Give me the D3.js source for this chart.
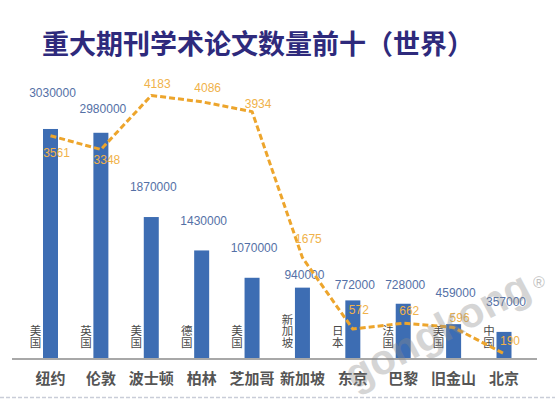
<!DOCTYPE html>
<html>
<head>
<meta charset="utf-8">
<script src="https://cdn.jsdelivr.net/npm/d3@7"></script>
<style>
  body { margin: 0; background: #fff; }
  svg { display: block; }
</style>
</head>
<body>
<div id="chart"></div>
<script>
var width = 555,
  height = 399;

// data
var cities = ["纽约", "伦敦", "波士顿", "柏林", "芝加哥", "新加坡", "东京", "巴黎", "旧金山", "北京"];
var countries = ["美国", "英国", "美国", "德国", "美国", "新加坡", "日本", "法国", "美国", "中国"];
var citations = [3030000, 2980000, 1870000, 1430000, 1070000, 940000, 772000, 728000, 459000, 357000];
var papers = [3561, 3348, 4183, 4086, 3934, 1675, 572, 662, 596, 190];

// label nudges (px) so the labels sit where the original had them
var barLabelLift = [36, 24, 30, 30, 30, 13, 16, 19, 31, 30];
var lineLabelDy = [17, 10, -12, -14, -8, -19, -19, -12, -10, -13];

var svg = d3.select("#chart")
  .append("svg")
  .attr("width", width)
  .attr("height", height);

var x = d3.scalePoint()
  .domain(cities)
  .range([50.5, 504]);

var y = d3.scaleLinear()
  .domain([0, 3500000])
  .range([359, 93.3]);

// secondary axis for the line
var y2 = d3.scaleLinear()
  .domain([0, 4500])
  .range([366, 75]);

var barW = 15;

// title
svg.append("text")
  .attr("x", 258)
  .attr("y", 54)
  .attr("text-anchor", "middle")
  .style("font-family", "'Noto Sans CJK SC', sans-serif")
  .style("font-weight", "bold")
  .style("font-size", "27px")
  .style("fill", "#2e2a7c")
  .text("重大期刊学术论文数量前十（世界）");

// bars
svg.selectAll("rect.bar")
  .data(citations)
  .enter()
  .append("rect")
  .attr("class", "bar")
  .attr("x", function(d, i){ return x(cities[i]) - barW / 2 })
  .attr("y", function(d){ return y(d) })
  .attr("width", barW)
  .attr("height", function(d){ return y(0) - y(d) })
  .attr("fill", "#3d6db3");

// baseline
svg.append("line")
  .attr("x1", 12)
  .attr("x2", 537)
  .attr("y1", y(0))
  .attr("y2", y(0))
  .attr("stroke", "#a8a8a8")
  .attr("stroke-width", 2);

// country names, written vertically left of each bar
svg.selectAll("text.country")
  .data(countries)
  .enter()
  .append("text")
  .attr("class", "country")
  .attr("x", function(d, i){ return x(cities[i]) - 15 })
  .attr("y", 348)
  .attr("text-anchor", "end")
  .style("writing-mode", "vertical-rl")
  .style("font-family", "'Noto Sans CJK SC', sans-serif")
  .style("font-size", "11.5px")
  .style("fill", "#4a4a4a")
  .text(function(d){ return d });

// bar value labels
svg.selectAll("text.barLabel")
  .data(citations)
  .enter()
  .append("text")
  .attr("class", "barLabel")
  .attr("x", function(d, i){ return x(cities[i]) + 2 })
  .attr("y", function(d, i){ return y(d) - barLabelLift[i] })
  .attr("dy", "0.35em")
  .attr("text-anchor", "middle")
  .style("font-family", "'Liberation Sans', Arial, sans-serif")
  .style("font-size", "12px")
  .style("fill", "#5470a6")
  .text(function(d){ return d });

// dashed line for paper counts
var line = d3.line()
  .x(function(d, i){ return x(cities[i]) })
  .y(function(d){ return y2(d) });

svg.append("path")
  .datum(papers)
  .attr("d", line)
  .attr("fill", "none")
  .attr("stroke", "#eda52c")
  .attr("stroke-width", 3)
  .attr("stroke-dasharray", "6 3")
  .attr("stroke-linejoin", "round");

svg.selectAll("text.lineLabel")
  .data(papers)
  .enter()
  .append("text")
  .attr("class", "lineLabel")
  .attr("x", function(d, i){ return x(cities[i]) + 6 })
  .attr("y", function(d, i){ return y2(d) + lineLabelDy[i] })
  .attr("dy", "0.35em")
  .attr("text-anchor", "middle")
  .style("font-family", "'Liberation Sans', Arial, sans-serif")
  .style("font-size", "12px")
  .style("fill", "#f0b24a")
  .text(function(d){ return d });

// category labels
svg.selectAll("text.cat")
  .data(cities)
  .enter()
  .append("text")
  .attr("class", "cat")
  .attr("x", function(d){ return x(d) })
  .attr("y", 384)
  .attr("text-anchor", "middle")
  .style("font-family", "'Noto Sans CJK SC', sans-serif")
  .style("font-weight", "bold")
  .style("font-size", "15px")
  .style("fill", "#555")
  .text(function(d){ return d });

// bottom dotted rule
svg.append("line")
  .attr("x1", 0)
  .attr("x2", width)
  .attr("y1", 397.5)
  .attr("y2", 397.5)
  .attr("stroke", "#c9cdd8")
  .attr("stroke-width", 1.5)
  .attr("stroke-dasharray", "4 2");

// watermark
svg.append("text")
  .attr("transform", "translate(437,330) rotate(-28)")
  .attr("text-anchor", "middle")
  .attr("dy", "0.35em")
  .style("font-family", "'Liberation Sans', Arial, sans-serif")
  .style("font-weight", "bold")
  .style("font-size", "42px")
  .style("fill", "#8a8a8a")
  .style("opacity", 0.35)
  .text("gongkong");

svg.append("text")
  .attr("x", 539)
  .attr("y", 288)
  .attr("text-anchor", "middle")
  .style("font-family", "'Liberation Sans', Arial, sans-serif")
  .style("font-size", "16px")
  .style("fill", "#999")
  .style("opacity", 0.6)
  .text("®");
</script>
</body>
</html>
